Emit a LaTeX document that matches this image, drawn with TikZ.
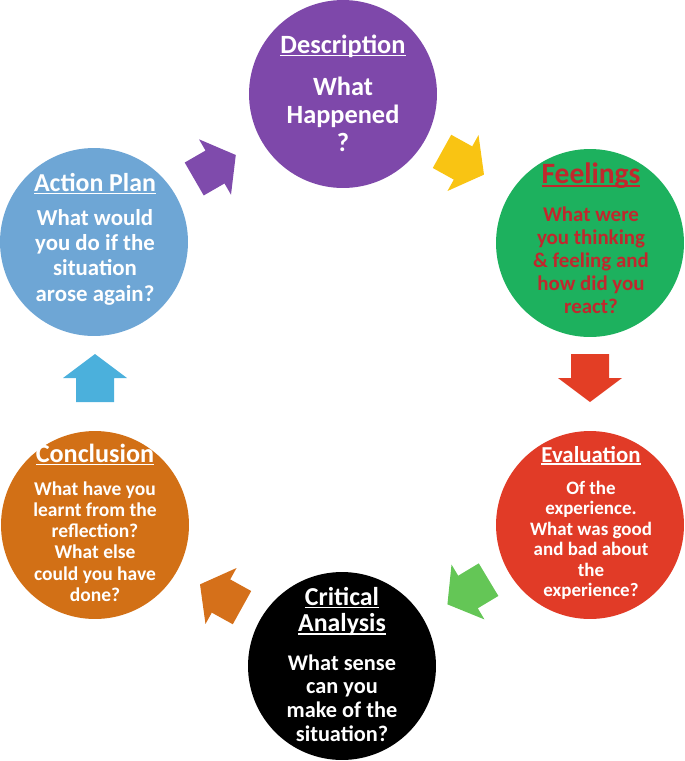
\documentclass[tikz,border=0pt]{standalone}
\usepackage{fontspec}
\setmainfont{Carlito}
\definecolor{cpurple}{HTML}{7E48AA}
\definecolor{cgreen}{HTML}{1DB15E}
\definecolor{ctred}{HTML}{C1272D}
\definecolor{cred}{HTML}{E13B27}
\definecolor{corange}{HTML}{D27016}
\definecolor{cblue}{HTML}{6EA6D5}
\definecolor{apurple}{HTML}{7F4BAC}
\definecolor{ayellow}{HTML}{F9C413}
\definecolor{ared}{HTML}{E33E25}
\definecolor{agreen}{HTML}{64C656}
\definecolor{aorange}{HTML}{D5701A}
\definecolor{ablue}{HTML}{4BB0DC}
\newcommand\fsz[2]{\fontsize{#1pt}{#2pt}\selectfont\bfseries}
\newcommand\ulin[1]{\setbox0\hbox{#1}\rlap{\rule[-0.12em]{\wd0}{0.06em}}\box0}
\newcommand\barrow[4]{\fill[#4, shift={(#1,#2)}, rotate=#3] (-24,-19) -- (0,-19) -- (0,-32) -- (24,0) -- (0,32) -- (0,19) -- (-24,19) -- cycle;}
\tikzset{
  bubble/.style={circle, minimum size=3.76cm, inner sep=0pt},
  txt/.style={anchor=base, inner sep=0pt, text=white},
}
\begin{document}
\begin{tikzpicture}[x=0.02cm,y=-0.02cm]
\useasboundingbox (0,0) rectangle (685,761);
% circles
\node[bubble, fill=cpurple] (desc) at (343,94) {};
\node[bubble, fill=cgreen] (feel) at (590,243) {};
\node[bubble, fill=cred] (eval) at (590,525) {};
\node[bubble, fill=black] (crit) at (342,666) {};
\node[bubble, fill=corange] (concl) at (95,525) {};
\node[bubble, fill=cblue] (act) at (94,242) {};
% arrows
\barrow{215}{167}{30}{apurple}
\barrow{463}{163}{-29}{ayellow}
\barrow{590}{378}{-90}{ared}
\barrow{468}{592}{-149}{agreen}
\barrow{221}{596}{151}{aorange}
\barrow{95}{378}{90}{ablue}
% texts
\node[txt] (desct) at (343,53) {\fsz{15}{18}\ulin{Description}};
\node[txt] (descb) at (343,95) {\fsz{15}{16.2}\begin{tabular}[t]{@{}c@{}}What\\Happened\\?\end{tabular}};
\node[txt, text=ctred] (feelt) at (591,183) {\fsz{16.8}{18}\ulin{Feelings}};
\node[txt, text=ctred] (feelb) at (591,221) {\fsz{11.9}{13.2}\begin{tabular}[t]{@{}c@{}}What were\\you thinking\\\& feeling and\\how did you\\react?\end{tabular}};
\node[txt] (evalt) at (591,462) {\fsz{13}{15}\ulin{Evaluation}};
\node[txt] (evalb) at (591,494) {\fsz{10.8}{11.7}\begin{tabular}[t]{@{}c@{}}Of the\\experience.\\What was good\\and bad about\\the\\experience?\end{tabular}};
\node[txt] (critt) at (342,605) {\fsz{14.7}{15.3}\begin{tabular}[t]{@{}c@{}}\ulin{Critical}\\\ulin{Analysis}\end{tabular}};
\node[txt] (critb) at (342,670) {\fsz{12.7}{13.6}\begin{tabular}[t]{@{}c@{}}What sense\\can you\\make of the\\situation?\end{tabular}};
\node[txt] (conclt) at (95,462) {\fsz{14.9}{16}\ulin{Conclusion}};
\node[txt] (conclb) at (95,495) {\fsz{11.1}{12.1}\begin{tabular}[t]{@{}c@{}}What have you\\learnt from the\\reflection?\\What else\\could you have\\done?\end{tabular}};
\node[txt] (actt) at (95,191) {\fsz{14.7}{16}\ulin{Action Plan}};
\node[txt] (actb) at (95,225) {\fsz{13}{14.5}\begin{tabular}[t]{@{}c@{}}What would\\you do if the\\situation\\arose again?\end{tabular}};
\end{tikzpicture}
\end{document}
